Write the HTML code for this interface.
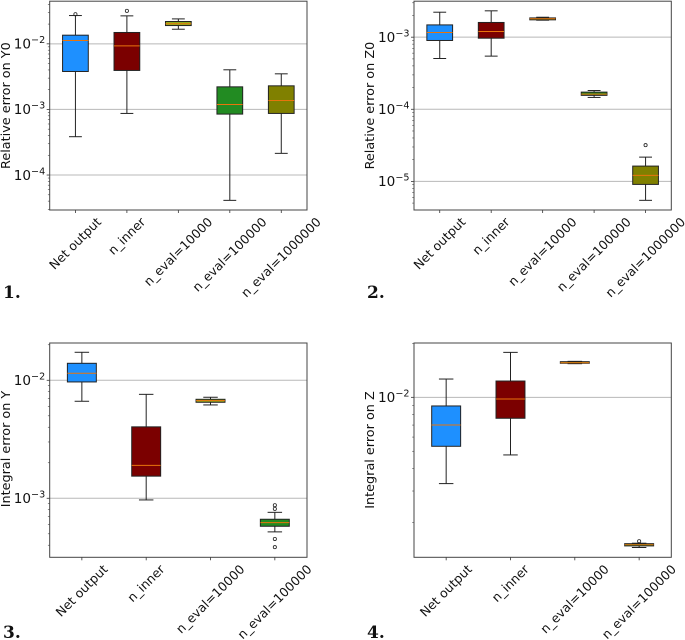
<!DOCTYPE html>
<html>
<head>
<meta charset="utf-8">
<style>
html,body{margin:0;padding:0;background:#fff;}
#chart{display:block;width:685px;height:640px;filter:blur(0.35px);}
text{font-family:"DejaVu Sans","Liberation Sans",sans-serif;fill:#111;}
</style>
</head>
<body>
<svg id="chart" xmlns="http://www.w3.org/2000/svg" width="685" height="640" viewBox="0 0 685 640"></svg>
<script>
const categoriesFive = ["Net output", "n_inner", "n_eval=10000", "n_eval=100000", "n_eval=1000000"];
const categoriesFour = ["Net output", "n_inner", "n_eval=10000", "n_eval=100000"];
const boxColors = ["#1e90ff", "#7b0000", "#8fae1f", "#228b22", "#808000"];

const y0High = [0.0270, 0.0267, 0.0240, 0.00402, 0.00349];
const y0Q3 = [0.01355, 0.0149, 0.0219, 0.00221, 0.00229];
const y0Median = [0.01124, 0.00932, 0.0202, 0.00119, 0.00137];
const y0Q1 = [0.00379, 0.00393, 0.0190, 0.000849, 0.000869];
const y0Low = [0.000384, 0.000869, 0.0167, 0.0000411, 0.000214];
const y0Outliers = [[0.0283], [0.0318], [], [], []];
const y0Domain = [0.0000293, 0.04467];
const y0Exponents = [-2, -3, -4];

const z0High = [0.00222, 0.00232, 0.00189, 0.000182, 0.0000217];
const z0Q3 = [0.00148, 0.0016, 0.00185, 0.000173, 0.0000163];
const z0Median = [0.00116, 0.0012, 0.0018, 0.000162, 0.0000121];
const z0Q1 = [0.0009, 0.000968, 0.00174, 0.000156, 0.00000908];
const z0Low = [0.000506, 0.000546, 0.00172, 0.000146, 0.00000546];
const z0Outliers = [[], [], [], [], [0.0000318]];
const z0Domain = [0.00000401, 0.003155];
const z0Exponents = [-3, -4, -5];

const intYHigh = [0.01727, 0.0076, 0.00718, 0.00076];
const intYQ3 = [0.01393, 0.00403, 0.0069, 0.000664];
const intYMedian = [0.01146, 0.0019, 0.00673, 0.000622];
const intYQ1 = [0.00968, 0.00154, 0.00651, 0.000579];
const intYLow = [0.00664, 0.000968, 0.00618, 0.000519];
const intYOutliers = [[], [], [], [0.000873, 0.000813, 0.000452, 0.000385]];
const intYDomain = [0.000316, 0.0207];
const intYExponents = [-2, -3];

const intZHigh = [0.01265, 0.01782, 0.01588, 0.001534];
const intZQ3 = [0.00895, 0.01233, 0.01581, 0.001525];
const intZMedian = [0.00701, 0.00979, 0.0156, 0.001503];
const intZQ1 = [0.00533, 0.00764, 0.01549, 0.001482];
const intZLow = [0.0033, 0.00477, 0.01541, 0.001452];
const intZOutliers = [[], [], [], [0.001574]];
const intZDomain = [0.00128, 0.0201];
const intZExponents = [-2];

const svg = document.getElementById('chart');
const NS = 'http://www.w3.org/2000/svg';

function shape(parent, tag, props) {
  const node = document.createElementNS(NS, tag);
  for (const key in props) node.setAttribute(key, props[key]);
  parent.appendChild(node);
  return node;
}

function drawPanel(o) {
  const panel = shape(svg, 'g', {});
  
  

  const L = o.left, R = o.right, T = o.top, B = o.bottom;
  const n = o.categories.length;
  const lo = Math.log10(o.domain[0]), hi = Math.log10(o.domain[1]);
  const yScale = v => B - (Math.log10(v) - lo) / (hi - lo) * (B - T);
  const step = (R - L) / n;
  const xScale = i => L + step * (i + 0.5);
  const boxW = (n === 5 ? 0.5 : 0.45) * step;
  const capW = boxW / 2;

  o.exponents.forEach(e => {
    const y = yScale(Math.pow(10, e));
    const grid = shape(panel, 'line', {x1: L, x2: R, y1: y, y2: y, stroke: '#b8b8b8', 'stroke-width': 1});
    
    
    const tick = shape(panel, 'line', {x1: L - 3, x2: L, y1: y, y2: y, stroke: '#333', 'stroke-width': 0.8});
    
    
    const label = shape(panel, 'text', {x: L - 4.5, y: y + 4.8, 'text-anchor': 'end', 'font-size': 13.6});
    
    
    const base = shape(label, 'tspan', {});
    base.textContent = '10';
    const sup = shape(label, 'tspan', {dy: -5.5, 'font-size': 9.6});
    sup.textContent = '\u2212' + Math.abs(e);
  });

  for (let e = Math.floor(lo); e < Math.ceil(hi); e++) {
    for (let m = 2; m < 10; m++) {
      const v = m * Math.pow(10, e);
      if (v < o.domain[0] || v > o.domain[1]) continue;
      const y = yScale(v);
      const minor = shape(panel, 'line', {x1: L - 1.8, x2: L, y1: y, y2: y, stroke: '#444', 'stroke-width': 0.6});
      
      
    }
  }

  o.categories.forEach((cat, i) => {
    const x = xScale(i);
    const g = shape(panel, 'g', {});
    
    

    const yHigh = yScale(o.high[i]), yQ3 = yScale(o.q3[i]), yMed = yScale(o.median[i]), yQ1 = yScale(o.q1[i]), yLow = yScale(o.low[i]);

    const rect = shape(g, 'rect', {x: x - boxW / 2, y: yQ3, width: boxW, height: Math.max(yQ1 - yQ3, 0.5), fill: boxColors[i], stroke: '#222', 'stroke-width': 1});
    
    

    const upper = shape(g, 'line', {x1: x, x2: x, y1: yHigh, y2: yQ3, stroke: '#222', 'stroke-width': 1});
    
    
    const lower = shape(g, 'line', {x1: x, x2: x, y1: yQ1, y2: yLow, stroke: '#222', 'stroke-width': 1});
    
    
    const capTop = shape(g, 'line', {x1: x - capW / 2, x2: x + capW / 2, y1: yHigh, y2: yHigh, stroke: '#222', 'stroke-width': 1});
    
    
    const capBottom = shape(g, 'line', {x1: x - capW / 2, x2: x + capW / 2, y1: yLow, y2: yLow, stroke: '#222', 'stroke-width': 1});
    
    

    const median = shape(g, 'line', {x1: x - boxW / 2, x2: x + boxW / 2, y1: yMed, y2: yMed, stroke: '#e8740c', 'stroke-width': 1});
    
    

    o.outliers[i].forEach(v => {
      const dot = shape(g, 'circle', {cx: x, cy: yScale(v), r: 1.6, fill: 'none', stroke: '#222', 'stroke-width': 0.8});
      
      
    });

    const tick = shape(panel, 'line', {x1: x, x2: x, y1: B, y2: B + 3, stroke: '#333', 'stroke-width': 0.8});
    
    

    const label = shape(panel, 'text', {x: 0, y: 0, 'text-anchor': 'middle', 'font-size': 12.5});
    
    
    label.textContent = cat;
    const w = label.getComputedTextLength();
    const extent = (w + 11) * Math.SQRT1_2;
    const cy = B + 6 + extent / 2;
    label.setAttribute('transform', 'translate(' + x + ' ' + cy + ') rotate(-45) translate(0 4)');
  });

  const frame = shape(panel, 'rect', {x: L, y: T, width: R - L, height: B - T, fill: 'none', stroke: '#444', 'stroke-width': 1});
  
  

  const yTitle = shape(panel, 'text', {'text-anchor': 'middle', 'font-size': 12.8, transform: 'translate(' + o.titleX + ' ' + o.titleY + ') rotate(-90)'});
  
  
  yTitle.textContent = o.title;

  const tag = shape(panel, 'text', {x: o.tagX, y: o.tagY, 'font-size': 17, 'font-weight': 'bold', style: 'font-family:"DejaVu Serif","Liberation Serif",serif'});
  
  
  tag.textContent = o.tag;
}

drawPanel({id: 'y0', left: 49.7, right: 307, top: 1.2, bottom: 210, categories: categoriesFive, high: y0High, q3: y0Q3, median: y0Median, q1: y0Q1, low: y0Low, outliers: y0Outliers, domain: y0Domain, exponents: y0Exponents, title: 'Relative error on Y0', titleX: 10, titleY: 105.6, tag: '1.', tagX: 3, tagY: 298});
drawPanel({id: 'z0', left: 414, right: 671.3, top: 1.2, bottom: 210, categories: categoriesFive, high: z0High, q3: z0Q3, median: z0Median, q1: z0Q1, low: z0Low, outliers: z0Outliers, domain: z0Domain, exponents: z0Exponents, title: 'Relative error on Z0', titleX: 374, titleY: 105.6, tag: '2.', tagX: 367, tagY: 298});
drawPanel({id: 'integral-y', left: 49.7, right: 307, top: 343, bottom: 557.3, categories: categoriesFour, high: intYHigh, q3: intYQ3, median: intYMedian, q1: intYQ1, low: intYLow, outliers: intYOutliers, domain: intYDomain, exponents: intYExponents, title: 'Integral error on Y', titleX: 10, titleY: 449, tag: '3.', tagX: 3, tagY: 638});
drawPanel({id: 'integral-z', left: 414, right: 671.3, top: 343, bottom: 557.3, categories: categoriesFour, high: intZHigh, q3: intZQ3, median: intZMedian, q1: intZQ1, low: intZLow, outliers: intZOutliers, domain: intZDomain, exponents: intZExponents, title: 'Integral error on Z', titleX: 374, titleY: 450, tag: '4.', tagX: 367, tagY: 638});
</script>
</body>
</html>
